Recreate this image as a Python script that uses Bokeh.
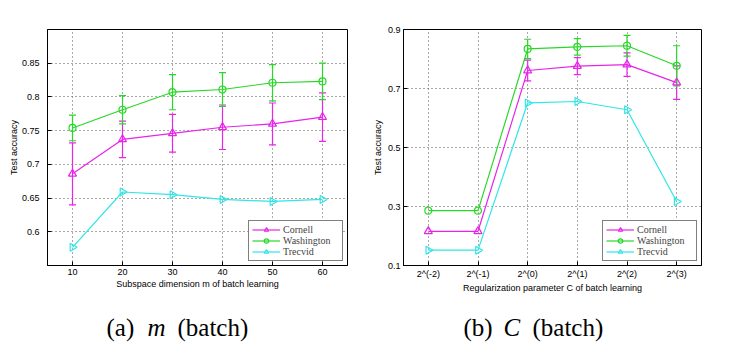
import math
from bokeh.plotting import figure
from bokeh.layouts import row, column
from bokeh.models import (ColumnDataSource, Whisker, TeeHead, Legend, LegendItem,
                          Label, FixedTicker, Range1d)
from bokeh.embed import file_html
from bokeh.resources import INLINE

# ---------------- data ----------------
series_names = ["Cornell", "Washington", "Trecvid"]

# (a) subspace dimension m
m_values = [10, 20, 30, 40, 50, 60]
m_cornell = [0.686, 0.737, 0.746, 0.755, 0.760, 0.770]
m_cornell_err = [0.046, 0.027, 0.028, 0.033, 0.031, 0.036]
m_washington = [0.754, 0.781, 0.807, 0.811, 0.821, 0.823]
m_washington_err = [0.019, 0.021, 0.026, 0.025, 0.027, 0.027]
m_trecvid = [0.577, 0.659, 0.655, 0.648, 0.645, 0.648]

# (b) regularization parameter C
c_labels = ["2^(-2)", "2^(-1)", "2^(0)", "2^(1)", "2^(2)", "2^(3)"]
c_index = [0, 1, 2, 3, 4, 5]
c_cornell = [0.216, 0.216, 0.761, 0.776, 0.781, 0.720]
c_cornell_err = [0.0, 0.0, 0.035, 0.029, 0.040, 0.057]
c_washington = [0.286, 0.286, 0.834, 0.841, 0.845, 0.777]
c_washington_err = [0.0, 0.0, 0.033, 0.028, 0.035, 0.068]
c_trecvid = [0.152, 0.152, 0.651, 0.656, 0.628, 0.317]

m_yticks = [0.6, 0.65, 0.7, 0.75, 0.8, 0.85]
m_ytick_labels = ["0.6", "0.65", "0.7", "0.75", "0.8", "0.85"]
c_yticks = [0.1, 0.3, 0.5, 0.7, 0.9]
c_ytick_labels = ["0.1", "0.3", "0.5", "0.7", "0.9"]

colors = {"Cornell": "#e824e8", "Washington": "#28d828", "Trecvid": "#30e6e6"}

SANS = "Liberation Sans"
SERIF = "Liberation Serif"
PLOT_H = 295
CAP_H = 361 - PLOT_H


def base_fig(width, bl, br, xr, yr, xticks, yticks, xlabels, ylabels, xlabel, ystandoff, ylab_standoff):
    p = figure(width=width, height=PLOT_H, x_range=Range1d(*xr), y_range=Range1d(*yr),
               output_backend="svg", toolbar_location=None,
               min_border_left=bl, min_border_right=br, min_border_top=29, min_border_bottom=30)
    p.background_fill_color = "white"
    p.border_fill_color = "white"
    p.outline_line_color = "black"
    p.outline_line_width = 1
    p.outline_line_alpha = 1
    p.xaxis.ticker = FixedTicker(ticks=xticks)
    p.yaxis.ticker = FixedTicker(ticks=yticks)
    p.xaxis.major_label_overrides = {t: l for t, l in zip(xticks, xlabels)}
    p.yaxis.major_label_overrides = {t: l for t, l in zip(yticks, ylabels)}
    p.xaxis.axis_label = xlabel
    p.yaxis.axis_label = "Test accuracy"
    for ax in (p.xaxis[0], p.yaxis[0]):
        ax.axis_line_color = "black"
        ax.major_tick_line_color = "black"
        ax.major_tick_in = 4
        ax.major_tick_out = 0
        ax.minor_tick_line_color = None
        ax.major_label_text_font = SANS
        ax.major_label_text_font_size = "9px"
        ax.major_label_text_color = "black"
        ax.axis_label_text_font = SANS
        ax.axis_label_text_font_size = "9px"
        ax.axis_label_text_font_style = "normal"
        ax.axis_label_text_color = "black"
    p.xaxis.major_label_standoff = 3
    p.xaxis.axis_label_standoff = 1
    p.yaxis.major_label_standoff = ystandoff
    p.yaxis.axis_label_standoff = ylab_standoff
    for g in (p.xgrid[0], p.ygrid[0]):
        g.grid_line_color = "#555555"
        g.grid_line_dash = "1 3"
        g.grid_line_width = 1
    return p


def add_series(p, x, ys, errs):
    items = []
    for name in series_names:
        y = ys[name]
        c = colors[name]
        ln = p.line(x, y, line_color=c, line_width=1.2)
        if errs.get(name) is not None:
            e = errs[name]
            src = ColumnDataSource(dict(x=[xi for xi, ei in zip(x, e) if ei > 0],
                                        upper=[yi + ei for yi, ei in zip(y, e) if ei > 0],
                                        lower=[yi - ei for yi, ei in zip(y, e) if ei > 0]))
            w = Whisker(source=src, base="x", upper="upper", lower="lower",
                        line_color=c, line_width=1.2,
                        upper_head=TeeHead(size=7, line_color=c, line_width=1.2),
                        lower_head=TeeHead(size=7, line_color=c, line_width=1.2))
            p.add_layout(w)
        if name == "Cornell":
            mk = p.scatter(x, y, marker="triangle", size=8, line_color=c, fill_alpha=0, line_width=1.2)
        elif name == "Washington":
            mk = p.scatter(x, y, marker="circle", size=7, line_color=c, fill_alpha=0, line_width=1.2)
        else:
            mk = p.scatter(x, y, marker="triangle", angle=-math.pi / 2, size=8, line_color=c,
                           fill_alpha=0, line_width=1.2)
        items.append(LegendItem(label=name, renderers=[ln, mk]))
    leg = Legend(items=items, location="bottom_right", margin=4, padding=3, spacing=0,
                 glyph_width=28, glyph_height=11, label_height=11, label_width=56,
                 label_standoff=3, label_text_font=SERIF, label_text_font_size="10px",
                 border_line_color="black", border_line_width=1,
                 background_fill_color="white", background_fill_alpha=1)
    p.add_layout(leg)


# ---------------- panel (a) ----------------
p1 = base_fig(369, 47, 22, (5, 65), (0.55, 0.9), m_values, m_yticks,
              [str(v) for v in m_values], m_ytick_labels,
              "Subspace dimension m of batch learning", 8, 0)
add_series(p1, m_values,
           {"Cornell": m_cornell, "Washington": m_washington, "Trecvid": m_trecvid},
           {"Cornell": m_cornell_err, "Washington": m_washington_err, "Trecvid": None})

# ---------------- panel (b) ----------------
p2 = base_fig(369, 32, 37, (-0.5, 5.5), (0.1, 0.9), c_index, c_yticks,
              c_labels, c_ytick_labels,
              "Regularization parameter C of batch learning", 3, 2)
add_series(p2, c_index,
           {"Cornell": c_cornell, "Washington": c_washington, "Trecvid": c_trecvid},
           {"Cornell": c_cornell_err, "Washington": c_washington_err, "Trecvid": None})

# ---------------- captions ----------------
cap = figure(width=738, height=CAP_H, x_range=Range1d(0, 738), y_range=Range1d(0, CAP_H),
             output_backend="svg", toolbar_location=None, x_axis_location=None,
             y_axis_location=None, min_border=0, min_border_left=0, min_border_right=0,
             min_border_top=0, min_border_bottom=0)
cap.outline_line_color = None
cap.xgrid.visible = False
cap.ygrid.visible = False
cap.background_fill_color = "white"
cap.border_fill_color = "white"

BASE = CAP_H - (327 - PLOT_H)
caption_parts = [(106, "(a)", "normal"), (147, "m", "italic"), (177, "(batch)", "normal"),
                 (463, "(b)", "normal"), (503, "C", "italic"), (532, "(batch)", "normal")]
for x, t, st in caption_parts:
    cap.add_layout(Label(x=x, y=BASE, x_units="screen", y_units="screen", text=t,
                         text_font=SERIF, text_font_size="25px", text_font_style=st,
                         text_baseline="alphabetic", text_color="black"))

layout = column(row(p1, p2, spacing=0), cap, spacing=0)
open("out.html", "w").write(file_html(layout, INLINE))
